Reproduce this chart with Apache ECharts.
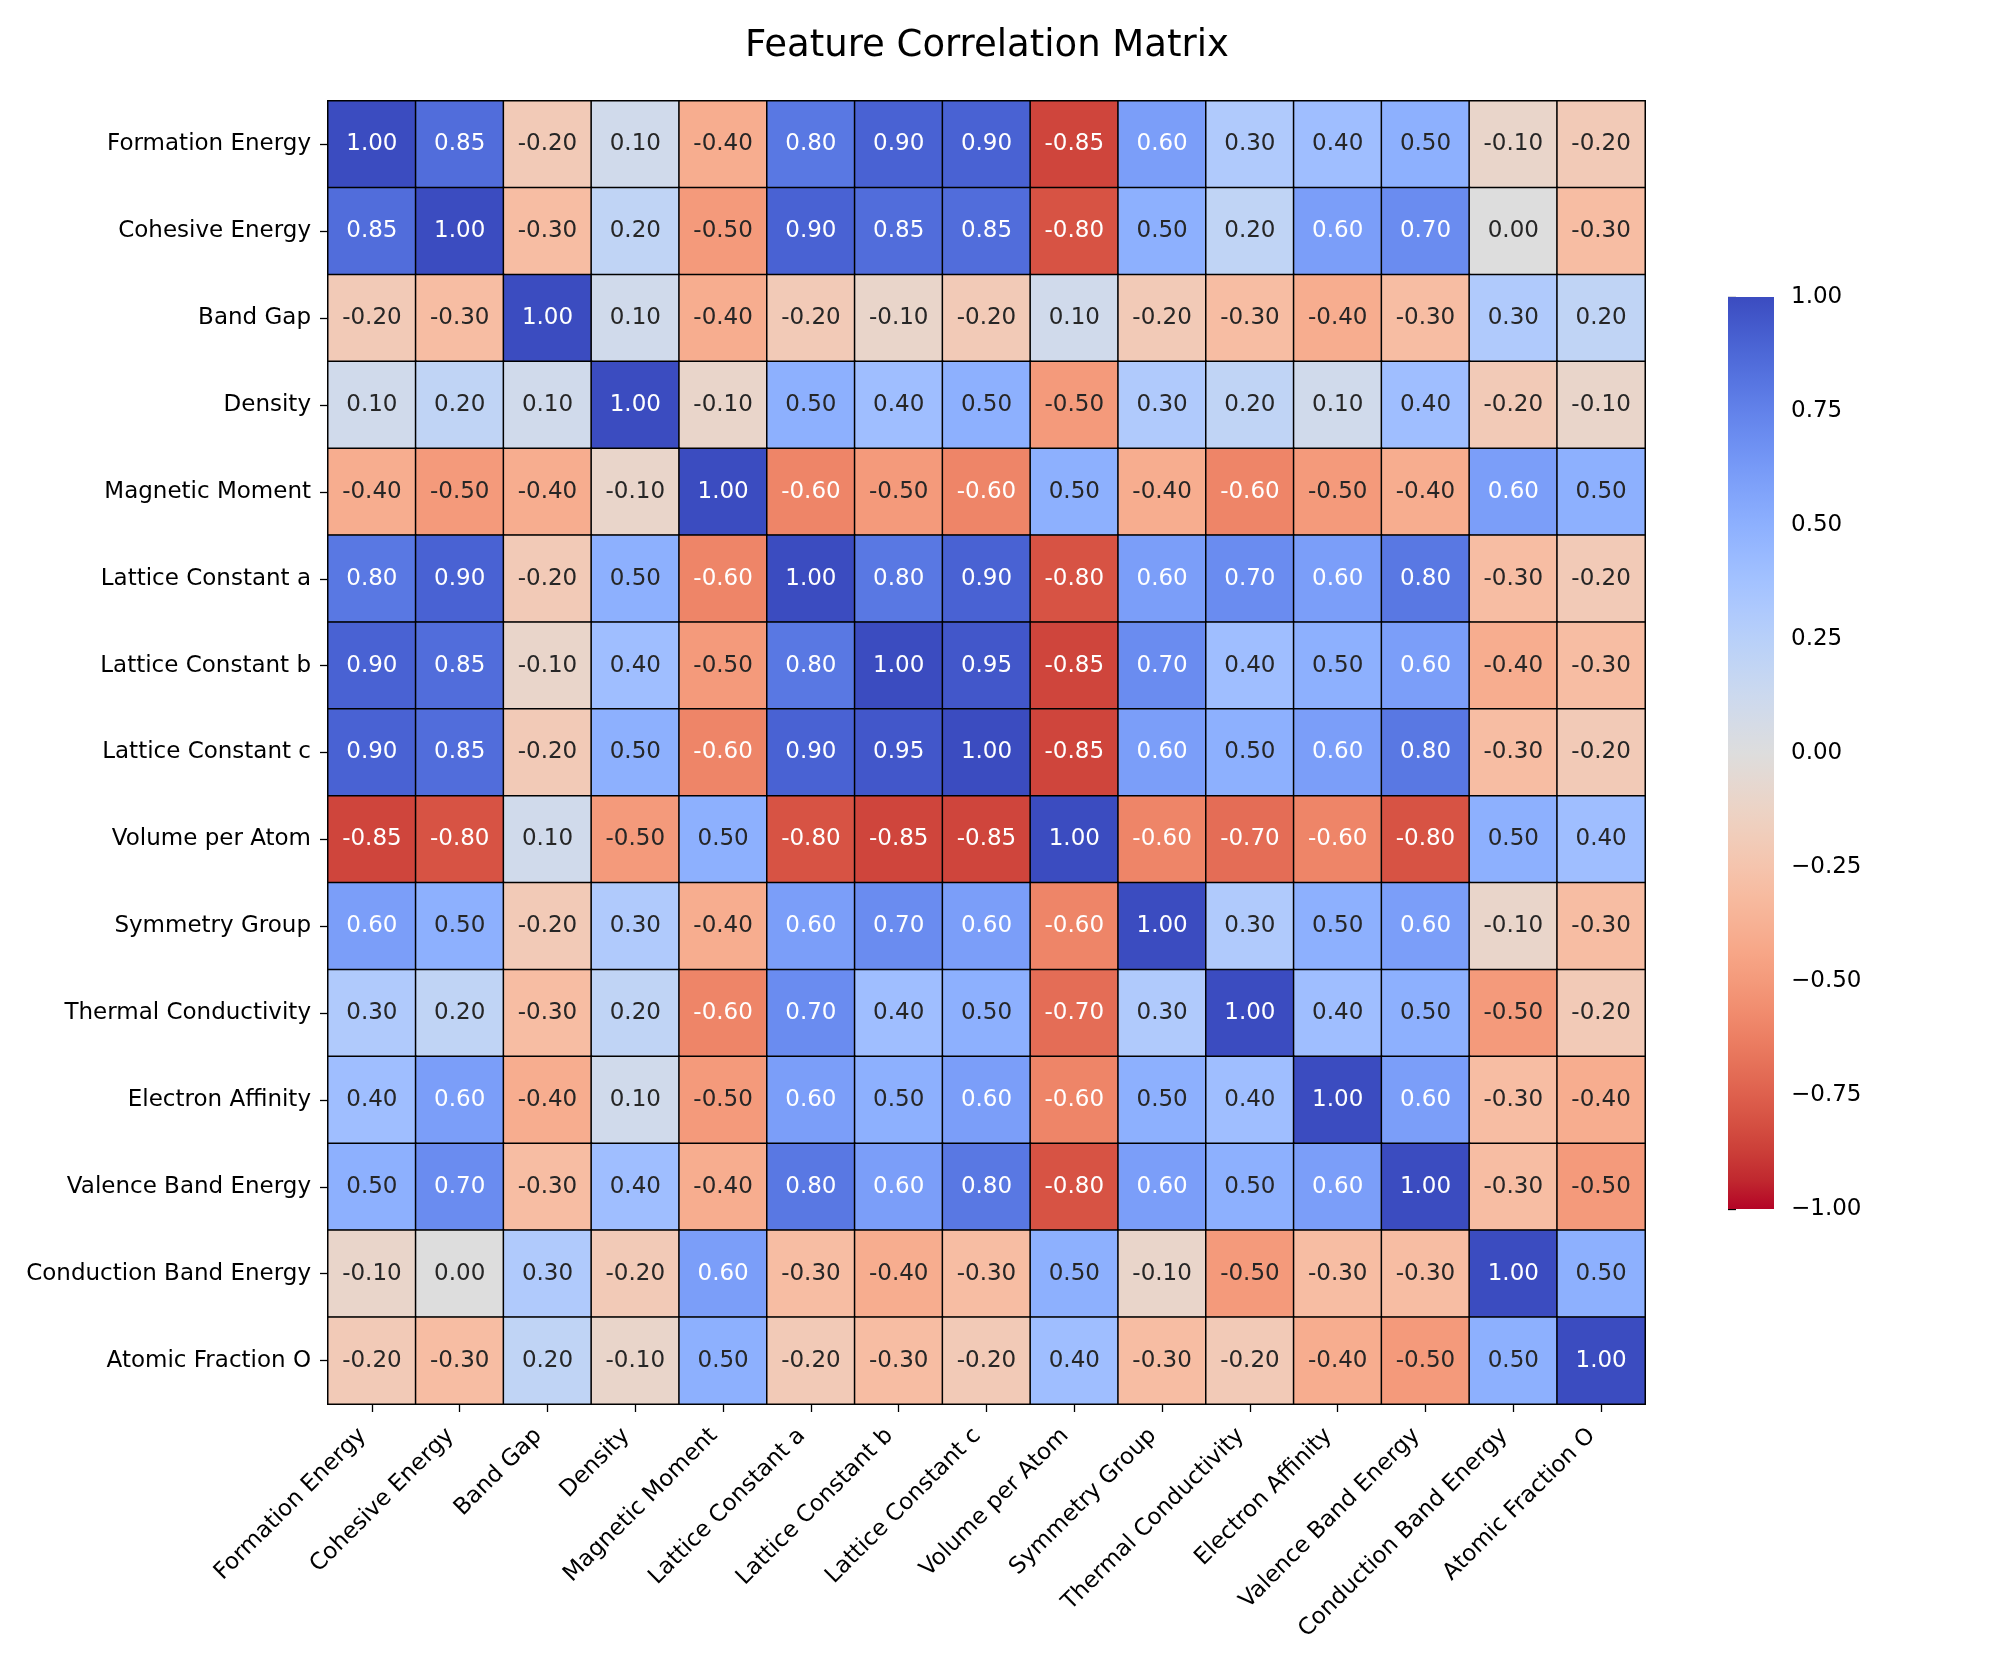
<!DOCTYPE html>
<html>
<head>
<meta charset="utf-8">
<script src="https://cdn.jsdelivr.net/npm/echarts@6/dist/echarts.min.js"></script>
<style>
  html, body { margin: 0; background: #fff; }
  #chart { width: 2000px; height: 1666px; }
</style>
</head>
<body>
<div id="chart"></div>
<script>
const features = [
  'Formation Energy', 'Cohesive Energy', 'Band Gap', 'Density', 'Magnetic Moment',
  'Lattice Constant a', 'Lattice Constant b', 'Lattice Constant c', 'Volume per Atom',
  'Symmetry Group', 'Thermal Conductivity', 'Electron Affinity', 'Valence Band Energy',
  'Conduction Band Energy', 'Atomic Fraction O'
];

const corr = [
  [1.00, 0.85, -0.20, 0.10, -0.40, 0.80, 0.90, 0.90, -0.85, 0.60, 0.30, 0.40, 0.50, -0.10, -0.20],
  [0.85, 1.00, -0.30, 0.20, -0.50, 0.90, 0.85, 0.85, -0.80, 0.50, 0.20, 0.60, 0.70, 0.00, -0.30],
  [-0.20, -0.30, 1.00, 0.10, -0.40, -0.20, -0.10, -0.20, 0.10, -0.20, -0.30, -0.40, -0.30, 0.30, 0.20],
  [0.10, 0.20, 0.10, 1.00, -0.10, 0.50, 0.40, 0.50, -0.50, 0.30, 0.20, 0.10, 0.40, -0.20, -0.10],
  [-0.40, -0.50, -0.40, -0.10, 1.00, -0.60, -0.50, -0.60, 0.50, -0.40, -0.60, -0.50, -0.40, 0.60, 0.50],
  [0.80, 0.90, -0.20, 0.50, -0.60, 1.00, 0.80, 0.90, -0.80, 0.60, 0.70, 0.60, 0.80, -0.30, -0.20],
  [0.90, 0.85, -0.10, 0.40, -0.50, 0.80, 1.00, 0.95, -0.85, 0.70, 0.40, 0.50, 0.60, -0.40, -0.30],
  [0.90, 0.85, -0.20, 0.50, -0.60, 0.90, 0.95, 1.00, -0.85, 0.60, 0.50, 0.60, 0.80, -0.30, -0.20],
  [-0.85, -0.80, 0.10, -0.50, 0.50, -0.80, -0.85, -0.85, 1.00, -0.60, -0.70, -0.60, -0.80, 0.50, 0.40],
  [0.60, 0.50, -0.20, 0.30, -0.40, 0.60, 0.70, 0.60, -0.60, 1.00, 0.30, 0.50, 0.60, -0.10, -0.30],
  [0.30, 0.20, -0.30, 0.20, -0.60, 0.70, 0.40, 0.50, -0.70, 0.30, 1.00, 0.40, 0.50, -0.50, -0.20],
  [0.40, 0.60, -0.40, 0.10, -0.50, 0.60, 0.50, 0.60, -0.60, 0.50, 0.40, 1.00, 0.60, -0.30, -0.40],
  [0.50, 0.70, -0.30, 0.40, -0.40, 0.80, 0.60, 0.80, -0.80, 0.60, 0.50, 0.60, 1.00, -0.30, -0.50],
  [-0.10, 0.00, 0.30, -0.20, 0.60, -0.30, -0.40, -0.30, 0.50, -0.10, -0.50, -0.30, -0.30, 1.00, 0.50],
  [-0.20, -0.30, 0.20, -0.10, 0.50, -0.20, -0.30, -0.20, 0.40, -0.30, -0.20, -0.40, -0.50, 0.50, 1.00]
];

// colorbar range and tick step
const cbarMin = -1;
const cbarMax = 1;
const cbarStep = 0.25;

// coolwarm stops (blue -> red), 33 evenly spaced
const coolwarm = [
  [0.2298, 0.2987, 0.7537], [0.2662, 0.3531, 0.8015], [0.3039, 0.4065, 0.8450], [0.3428, 0.4588, 0.8837],
  [0.3830, 0.5094, 0.9174], [0.4244, 0.5581, 0.9456], [0.4667, 0.6046, 0.9682], [0.5096, 0.6483, 0.9848],
  [0.5530, 0.6889, 0.9954], [0.5963, 0.7261, 0.9998], [0.6392, 0.7596, 0.9982], [0.6813, 0.7890, 0.9904],
  [0.7222, 0.8140, 0.9766], [0.7615, 0.8343, 0.9569], [0.7987, 0.8498, 0.9317], [0.8335, 0.8602, 0.9011],
  [0.8654, 0.8654, 0.8654], [0.8978, 0.8489, 0.8209], [0.9241, 0.8274, 0.7745], [0.9445, 0.8009, 0.7267],
  [0.9589, 0.7698, 0.6780], [0.9673, 0.7341, 0.6288], [0.9700, 0.6943, 0.5794], [0.9668, 0.6504, 0.5303],
  [0.9580, 0.6028, 0.4818], [0.9437, 0.5518, 0.4342], [0.9239, 0.4973, 0.3880], [0.8990, 0.4396, 0.3432],
  [0.8692, 0.3783, 0.3003], [0.8346, 0.3129, 0.2593], [0.7956, 0.2413, 0.2205], [0.7525, 0.1572, 0.1841],
  [0.7057, 0.0156, 0.1502]
];

// reversed: value -1 -> red, +1 -> blue
const stops = coolwarm.slice().reverse();
const toHex = c => '#' + c.map(x => Math.round(x * 255).toString(16).padStart(2, '0')).join('');
const stopColors = stops.map(toHex);

function colorAt(v) {
  let t = (v - cbarMin) / (cbarMax - cbarMin) * (stops.length - 1);
  let i = Math.min(Math.floor(t), stops.length - 2);
  let f = t - i;
  return stops[i].map((c, k) => c + (stops[i + 1][k] - c) * f);
}

// same rule as seaborn annot: dark text on light cells
function textColor(v) {
  let lin = colorAt(v).map(c => c <= 0.03928 ? c / 12.92 : Math.pow((c + 0.055) / 1.055, 2.4));
  let lum = 0.2126 * lin[0] + 0.7152 * lin[1] + 0.0722 * lin[2];
  return lum > 0.408 ? '#262626' : '#ffffff';
}

let heatData = [];
corr.forEach((row, i) => {
  row.forEach((v, j) => {
    heatData.push({ value: [j, i, v], label: { color: textColor(v) } });
  });
});

const font = 'DejaVu Sans';
const chart = echarts.init(document.getElementById('chart'));

// colorbar: one rect spanning the bar axis, filled with the colormap
function renderColorbar(params, api) {
  let p0 = api.coord([0, cbarMax]);
  let p1 = api.coord([1, cbarMin]);
  return {
    type: 'rect',
    shape: { x: p0[0], y: p0[1], width: p1[0] - p0[0], height: p1[1] - p0[1] },
    style: {
      fill: new echarts.graphic.LinearGradient(0, 1, 0, 0,
        stopColors.map((c, k) => ({ offset: k / (stopColors.length - 1), color: c })))
    }
  };
}

chart.setOption({
  backgroundColor: '#fff',
  animation: false,
  title: {
    text: 'Feature Correlation Matrix',
    left: 740,
    top: 23,
    textStyle: { fontFamily: font, fontSize: 37, fontWeight: 'normal', color: '#000' }
  },
  grid: [
    { left: 328, top: 101, width: 1317, height: 1303 },
    { left: 1728, top: 297, width: 46, height: 912 }
  ],
  xAxis: [{
    type: 'category',
    gridIndex: 0,
    data: features,
    position: 'bottom',
    axisLine: { show: false },
    axisTick: { show: true, alignWithLabel: true, length: 8, lineStyle: { color: '#000', width: 1.3 } },
    axisLabel: {
      interval: 0, rotate: 45, margin: 19, padding: [0, 13, 0, 0],
      fontFamily: font, fontSize: 23, color: '#000'
    },
    splitLine: { show: false }
  }, {
    type: 'value',
    gridIndex: 1,
    show: false,
    min: 0,
    max: 1
  }],
  yAxis: [{
    type: 'category',
    gridIndex: 0,
    data: features,
    inverse: true,
    axisLine: { show: false },
    axisTick: { show: true, alignWithLabel: true, length: 8, lineStyle: { color: '#000', width: 1.3 } },
    axisLabel: { interval: 0, margin: 17, fontFamily: font, fontSize: 23, color: '#000' },
    splitLine: { show: false }
  }, {
    type: 'value',
    gridIndex: 1,
    position: 'right',
    min: cbarMin,
    max: cbarMax,
    interval: cbarStep,
    axisLine: { show: false },
    axisTick: { show: true, length: 8, lineStyle: { color: '#000', width: 1.3 } },
    axisLabel: {
      margin: 17,
      fontFamily: font,
      fontSize: 23,
      color: '#000',
      formatter: v => (v < 0 ? '\u2212' : '') + Math.abs(v).toFixed(2)
    },
    splitLine: { show: false }
  }],
  visualMap: {
    type: 'continuous',
    show: false,
    seriesIndex: 0,
    dimension: 2,
    min: cbarMin,
    max: cbarMax,
    inRange: { color: stopColors }
  },
  series: [{
    type: 'heatmap',
    xAxisIndex: 0,
    yAxisIndex: 0,
    data: heatData,
    label: {
      show: true,
      fontFamily: font,
      fontSize: 23,
      formatter: p => p.value[2].toFixed(2)
    },
    itemStyle: { borderColor: '#000', borderWidth: 1.5 },
    emphasis: { disabled: true }
  }, {
    type: 'custom',
    xAxisIndex: 1,
    yAxisIndex: 1,
    data: [[0, cbarMin]],
    renderItem: renderColorbar,
    silent: true
  }]
});
</script>
</body>
</html>
